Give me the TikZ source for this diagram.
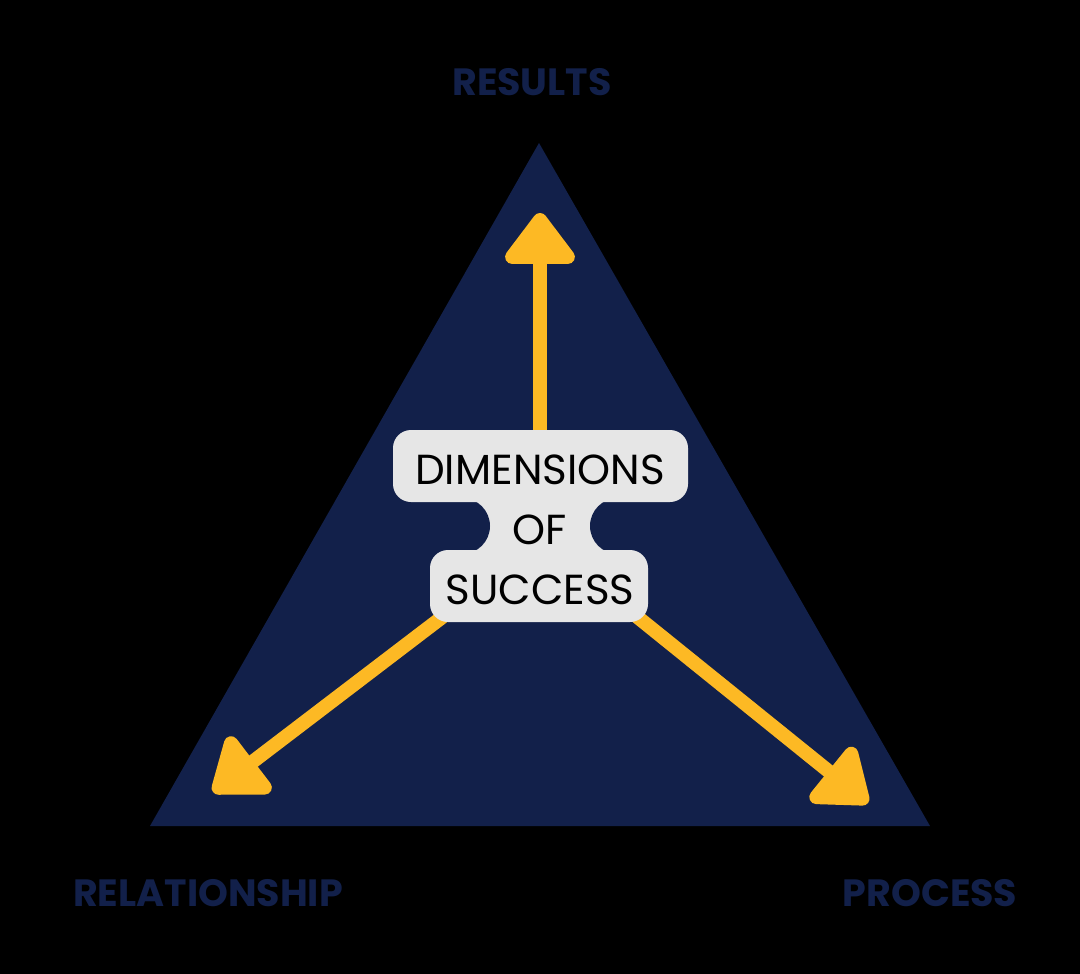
\documentclass[tikz,border=0pt]{standalone}
\usepackage{fontspec}
\setmainfont{Poppins}
\usetikzlibrary{arrows.meta}
\definecolor{navy}{HTML}{12204A}
\definecolor{gold}{HTML}{FDB924}
\definecolor{boxg}{HTML}{E6E6E6}
\begin{document}
\begin{tikzpicture}[x=1pt,y=-1pt,
  lab/.style={text=navy,font=\fontsize{38}{42}\selectfont},
  arr/.style={gold,line width=14pt,-{Triangle[width=80pt,length=56pt,round]}},
  txt/.style={font=\fontsize{42}{46}\selectfont,text=black}]
\fill[black] (0,0) rectangle (1080,974);
\useasboundingbox (0,0) rectangle (1080,974);
\fill[navy] (539,143) -- (150,826) -- (930,826) -- cycle;
\coordinate (c1) at (540,440);
\coordinate (t1) at (540,213);
\coordinate (c2) at (445,615);
\coordinate (t2) at (213,792);
\coordinate (c3) at (635,615);
\coordinate (t3) at (868,803);
\draw[arr] (c1) -- (t1);
\draw[arr] (c2) -- (t2);
\draw[arr] (c3) -- (t3);
\fill[boxg] (460,495) rectangle (620,557);
\fill[navy] (462,526) circle[radius=28pt];
\fill[navy] (618,526) circle[radius=28pt];
\fill[boxg,rounded corners=18pt] (393,430) rectangle (688,502);
\fill[boxg,rounded corners=18pt] (430,550) rectangle (648,622);
\node[txt] (d) at (540,470) {DIMENSIONS};
\node[txt] (o) at (540,530) {OF};
\node[txt] (s) at (540,590) {SUCCESS};
\node[lab] (r) at (532,82) {\bfseries RESULTS};
\node[lab] (rel) at (208,893) {\bfseries RELATIONSHIP};
\node[lab] (p) at (930,893) {\bfseries PROCESS};
\end{tikzpicture}
\end{document}
